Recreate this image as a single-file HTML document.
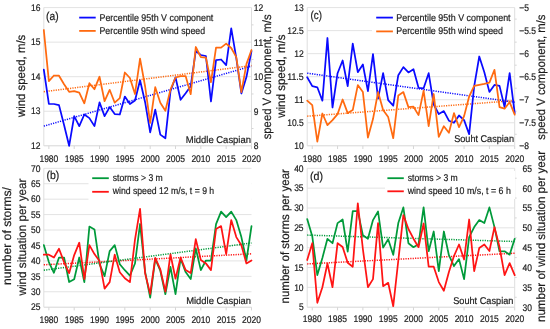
<!DOCTYPE html>
<html><head><meta charset="utf-8"><title>chart</title>
<style>html,body{margin:0;padding:0;background:#fff;}body{width:550px;height:329px;overflow:hidden;}svg{display:block;}</style>
</head><body>
<svg width="550" height="329" viewBox="0 0 550 329" font-family='"Liberation Sans", sans-serif'>
<rect width="550" height="329" fill="#fff"/>
<line x1="43.8" y1="7.6" x2="251.5" y2="7.6" stroke="#e3e3e3" stroke-width="1"/>
<line x1="43.8" y1="42.15" x2="251.5" y2="42.15" stroke="#e3e3e3" stroke-width="1"/>
<line x1="43.8" y1="76.7" x2="251.5" y2="76.7" stroke="#e3e3e3" stroke-width="1"/>
<line x1="43.8" y1="111.25" x2="251.5" y2="111.25" stroke="#e3e3e3" stroke-width="1"/>
<line x1="43.8" y1="145.8" x2="251.5" y2="145.8" stroke="#d6d6d6" stroke-width="1"/>
<line x1="43.8" y1="7.6" x2="43.8" y2="145.8" stroke="#dedede" stroke-width="1"/>
<line x1="48.87" y1="145.8" x2="48.87" y2="149" stroke="#d6d6d6" stroke-width="1"/>
<line x1="74.2" y1="145.8" x2="74.2" y2="149" stroke="#d6d6d6" stroke-width="1"/>
<line x1="99.52" y1="145.8" x2="99.52" y2="149" stroke="#d6d6d6" stroke-width="1"/>
<line x1="124.85" y1="145.8" x2="124.85" y2="149" stroke="#d6d6d6" stroke-width="1"/>
<line x1="150.18" y1="145.8" x2="150.18" y2="149" stroke="#d6d6d6" stroke-width="1"/>
<line x1="175.51" y1="145.8" x2="175.51" y2="149" stroke="#d6d6d6" stroke-width="1"/>
<line x1="200.84" y1="145.8" x2="200.84" y2="149" stroke="#d6d6d6" stroke-width="1"/>
<line x1="226.17" y1="145.8" x2="226.17" y2="149" stroke="#d6d6d6" stroke-width="1"/>
<line x1="251.5" y1="145.8" x2="251.5" y2="149" stroke="#d6d6d6" stroke-width="1"/>
<line x1="251.5" y1="7.6" x2="251.5" y2="145.8" stroke="#dedede" stroke-width="1"/>
<line x1="307.2" y1="7.6" x2="514.7" y2="7.6" stroke="#e3e3e3" stroke-width="1"/>
<line x1="307.2" y1="30.63" x2="514.7" y2="30.63" stroke="#e3e3e3" stroke-width="1"/>
<line x1="307.2" y1="53.67" x2="514.7" y2="53.67" stroke="#e3e3e3" stroke-width="1"/>
<line x1="307.2" y1="76.7" x2="514.7" y2="76.7" stroke="#e3e3e3" stroke-width="1"/>
<line x1="307.2" y1="99.73" x2="514.7" y2="99.73" stroke="#e3e3e3" stroke-width="1"/>
<line x1="307.2" y1="122.77" x2="514.7" y2="122.77" stroke="#e3e3e3" stroke-width="1"/>
<line x1="307.2" y1="145.8" x2="514.7" y2="145.8" stroke="#d6d6d6" stroke-width="1"/>
<line x1="307.2" y1="7.6" x2="307.2" y2="145.8" stroke="#dedede" stroke-width="1"/>
<line x1="312.26" y1="145.8" x2="312.26" y2="149" stroke="#d6d6d6" stroke-width="1"/>
<line x1="337.57" y1="145.8" x2="337.57" y2="149" stroke="#d6d6d6" stroke-width="1"/>
<line x1="362.87" y1="145.8" x2="362.87" y2="149" stroke="#d6d6d6" stroke-width="1"/>
<line x1="388.18" y1="145.8" x2="388.18" y2="149" stroke="#d6d6d6" stroke-width="1"/>
<line x1="413.48" y1="145.8" x2="413.48" y2="149" stroke="#d6d6d6" stroke-width="1"/>
<line x1="438.79" y1="145.8" x2="438.79" y2="149" stroke="#d6d6d6" stroke-width="1"/>
<line x1="464.09" y1="145.8" x2="464.09" y2="149" stroke="#d6d6d6" stroke-width="1"/>
<line x1="489.4" y1="145.8" x2="489.4" y2="149" stroke="#d6d6d6" stroke-width="1"/>
<line x1="514.7" y1="145.8" x2="514.7" y2="149" stroke="#d6d6d6" stroke-width="1"/>
<line x1="514.7" y1="7.6" x2="514.7" y2="145.8" stroke="#dedede" stroke-width="1"/>
<line x1="43.8" y1="168.3" x2="251.5" y2="168.3" stroke="#e3e3e3" stroke-width="1"/>
<line x1="43.8" y1="183.73" x2="251.5" y2="183.73" stroke="#e3e3e3" stroke-width="1"/>
<line x1="43.8" y1="199.17" x2="251.5" y2="199.17" stroke="#e3e3e3" stroke-width="1"/>
<line x1="43.8" y1="214.6" x2="251.5" y2="214.6" stroke="#e3e3e3" stroke-width="1"/>
<line x1="43.8" y1="230.03" x2="251.5" y2="230.03" stroke="#e3e3e3" stroke-width="1"/>
<line x1="43.8" y1="245.47" x2="251.5" y2="245.47" stroke="#e3e3e3" stroke-width="1"/>
<line x1="43.8" y1="260.9" x2="251.5" y2="260.9" stroke="#e3e3e3" stroke-width="1"/>
<line x1="43.8" y1="276.33" x2="251.5" y2="276.33" stroke="#e3e3e3" stroke-width="1"/>
<line x1="43.8" y1="291.77" x2="251.5" y2="291.77" stroke="#e3e3e3" stroke-width="1"/>
<line x1="43.8" y1="307.2" x2="251.5" y2="307.2" stroke="#d6d6d6" stroke-width="1"/>
<line x1="43.8" y1="168.3" x2="43.8" y2="307.2" stroke="#dedede" stroke-width="1"/>
<line x1="48.87" y1="307.2" x2="48.87" y2="310.4" stroke="#d6d6d6" stroke-width="1"/>
<line x1="74.2" y1="307.2" x2="74.2" y2="310.4" stroke="#d6d6d6" stroke-width="1"/>
<line x1="99.52" y1="307.2" x2="99.52" y2="310.4" stroke="#d6d6d6" stroke-width="1"/>
<line x1="124.85" y1="307.2" x2="124.85" y2="310.4" stroke="#d6d6d6" stroke-width="1"/>
<line x1="150.18" y1="307.2" x2="150.18" y2="310.4" stroke="#d6d6d6" stroke-width="1"/>
<line x1="175.51" y1="307.2" x2="175.51" y2="310.4" stroke="#d6d6d6" stroke-width="1"/>
<line x1="200.84" y1="307.2" x2="200.84" y2="310.4" stroke="#d6d6d6" stroke-width="1"/>
<line x1="226.17" y1="307.2" x2="226.17" y2="310.4" stroke="#d6d6d6" stroke-width="1"/>
<line x1="251.5" y1="307.2" x2="251.5" y2="310.4" stroke="#d6d6d6" stroke-width="1"/>
<line x1="307.2" y1="168.3" x2="514.7" y2="168.3" stroke="#e3e3e3" stroke-width="1"/>
<line x1="307.2" y1="188.14" x2="514.7" y2="188.14" stroke="#e3e3e3" stroke-width="1"/>
<line x1="307.2" y1="207.99" x2="514.7" y2="207.99" stroke="#e3e3e3" stroke-width="1"/>
<line x1="307.2" y1="227.83" x2="514.7" y2="227.83" stroke="#e3e3e3" stroke-width="1"/>
<line x1="307.2" y1="247.67" x2="514.7" y2="247.67" stroke="#e3e3e3" stroke-width="1"/>
<line x1="307.2" y1="267.51" x2="514.7" y2="267.51" stroke="#e3e3e3" stroke-width="1"/>
<line x1="307.2" y1="287.36" x2="514.7" y2="287.36" stroke="#e3e3e3" stroke-width="1"/>
<line x1="307.2" y1="307.2" x2="514.7" y2="307.2" stroke="#d6d6d6" stroke-width="1"/>
<line x1="307.2" y1="168.3" x2="307.2" y2="307.2" stroke="#dedede" stroke-width="1"/>
<line x1="312.26" y1="307.2" x2="312.26" y2="310.4" stroke="#d6d6d6" stroke-width="1"/>
<line x1="337.57" y1="307.2" x2="337.57" y2="310.4" stroke="#d6d6d6" stroke-width="1"/>
<line x1="362.87" y1="307.2" x2="362.87" y2="310.4" stroke="#d6d6d6" stroke-width="1"/>
<line x1="388.18" y1="307.2" x2="388.18" y2="310.4" stroke="#d6d6d6" stroke-width="1"/>
<line x1="413.48" y1="307.2" x2="413.48" y2="310.4" stroke="#d6d6d6" stroke-width="1"/>
<line x1="438.79" y1="307.2" x2="438.79" y2="310.4" stroke="#d6d6d6" stroke-width="1"/>
<line x1="464.09" y1="307.2" x2="464.09" y2="310.4" stroke="#d6d6d6" stroke-width="1"/>
<line x1="489.4" y1="307.2" x2="489.4" y2="310.4" stroke="#d6d6d6" stroke-width="1"/>
<line x1="514.7" y1="307.2" x2="514.7" y2="310.4" stroke="#d6d6d6" stroke-width="1"/>
<line x1="514.7" y1="168.3" x2="514.7" y2="307.2" stroke="#dedede" stroke-width="1"/>
<line x1="251.5" y1="24.88" x2="253.5" y2="24.88" stroke="#d6d6d6" stroke-width="1"/>
<line x1="251.5" y1="59.43" x2="253.5" y2="59.43" stroke="#d6d6d6" stroke-width="1"/>
<line x1="251.5" y1="93.98" x2="253.5" y2="93.98" stroke="#d6d6d6" stroke-width="1"/>
<line x1="251.5" y1="128.53" x2="253.5" y2="128.53" stroke="#d6d6d6" stroke-width="1"/>
<line x1="514.7" y1="19.12" x2="516.7" y2="19.12" stroke="#d6d6d6" stroke-width="1"/>
<line x1="514.7" y1="42.15" x2="516.7" y2="42.15" stroke="#d6d6d6" stroke-width="1"/>
<line x1="514.7" y1="65.18" x2="516.7" y2="65.18" stroke="#d6d6d6" stroke-width="1"/>
<line x1="514.7" y1="88.22" x2="516.7" y2="88.22" stroke="#d6d6d6" stroke-width="1"/>
<line x1="514.7" y1="111.25" x2="516.7" y2="111.25" stroke="#d6d6d6" stroke-width="1"/>
<line x1="514.7" y1="134.28" x2="516.7" y2="134.28" stroke="#d6d6d6" stroke-width="1"/>
<line x1="514.7" y1="178.22" x2="516.7" y2="178.22" stroke="#d6d6d6" stroke-width="1"/>
<line x1="514.7" y1="198.06" x2="516.7" y2="198.06" stroke="#d6d6d6" stroke-width="1"/>
<line x1="514.7" y1="217.91" x2="516.7" y2="217.91" stroke="#d6d6d6" stroke-width="1"/>
<line x1="514.7" y1="237.75" x2="516.7" y2="237.75" stroke="#d6d6d6" stroke-width="1"/>
<line x1="514.7" y1="257.59" x2="516.7" y2="257.59" stroke="#d6d6d6" stroke-width="1"/>
<line x1="514.7" y1="277.44" x2="516.7" y2="277.44" stroke="#d6d6d6" stroke-width="1"/>
<line x1="514.7" y1="297.28" x2="516.7" y2="297.28" stroke="#d6d6d6" stroke-width="1"/>
<rect x="372" y="10" width="142" height="30" fill="#fff"/>
<rect x="88.5" y="171" width="163" height="32" fill="#fff"/>
<rect x="385" y="171" width="130" height="28" fill="#fff"/>
<line x1="43.8" y1="91.7" x2="251.5" y2="65.6" stroke="#ff6a10" stroke-width="1.5" stroke-dasharray="1.2 1.2"/>
<line x1="43.8" y1="126.1" x2="251.5" y2="66.1" stroke="#0a0aff" stroke-width="1.5" stroke-dasharray="1.2 1.2"/>
<line x1="307.2" y1="73.2" x2="514.7" y2="102.2" stroke="#0a0aff" stroke-width="1.5" stroke-dasharray="1.2 1.2"/>
<line x1="307.2" y1="116.2" x2="514.7" y2="100.6" stroke="#ff6a10" stroke-width="1.5" stroke-dasharray="1.2 1.2"/>
<line x1="43.8" y1="264.8" x2="251.5" y2="253.8" stroke="#ff1414" stroke-width="1.5" stroke-dasharray="1.2 1.2"/>
<line x1="43.8" y1="270.2" x2="251.5" y2="243" stroke="#009a3a" stroke-width="1.5" stroke-dasharray="1.2 1.2"/>
<line x1="307.2" y1="263.9" x2="514.7" y2="253.2" stroke="#ff1414" stroke-width="1.5" stroke-dasharray="1.2 1.2"/>
<line x1="307.2" y1="235.1" x2="514.7" y2="241.5" stroke="#009a3a" stroke-width="1.5" stroke-dasharray="1.2 1.2"/>
<polyline points="43.8,69.7 48.87,103.8 53.93,104 59,105.1 64.06,125 69.13,145.8 74.2,116.1 79.26,126.1 84.33,114.5 89.39,118.1 94.46,126.1 99.52,102.4 104.59,116.1 109.66,107.1 114.72,114.1 119.79,114.5 124.85,96.6 129.92,104 134.99,100.5 140.05,80.3 145.12,102.2 150.18,132.4 155.25,109.7 160.31,134.6 165.38,138.3 170.45,91.3 175.51,77.3 180.58,99.8 185.64,93.2 190.71,86.2 195.78,51 200.84,55 205.91,56 210.97,101.5 216.04,60.1 221.1,59.5 226.17,65.1 231.24,28.3 236.3,58.1 241.37,93.5 246.43,77.1 251.5,51" fill="none" stroke="#0a0aff" stroke-width="1.75" stroke-linejoin="round" stroke-linecap="round"/>
<polyline points="43.8,30 48.87,81.2 53.93,75.5 59,75.7 64.06,84.2 69.13,91.8 74.2,91.2 79.26,92.6 84.33,103.3 89.39,83.2 94.46,89.2 99.52,76.7 104.59,101.2 109.66,89.8 114.72,102.7 119.79,98.2 124.85,72.5 129.92,78 134.99,94 140.05,58.6 145.12,86.5 150.18,122.8 155.25,87.2 160.31,102.8 165.38,110.8 170.45,89.5 175.51,77.5 180.58,76.1 185.64,76.1 190.71,94.2 195.78,47 200.84,57.1 205.91,57.7 210.97,82.2 216.04,47.6 221.1,47.6 226.17,43.6 231.24,48 236.3,57.1 241.37,92.2 246.43,64.1 251.5,50" fill="none" stroke="#ff6a10" stroke-width="1.75" stroke-linejoin="round" stroke-linecap="round"/>
<polyline points="307.2,77.2 312.26,86.1 317.32,87.3 322.38,100.7 327.44,38 332.5,107.5 337.57,73.2 342.63,60.5 347.69,86.2 352.75,43.7 357.81,72.2 362.87,64.5 367.93,91.1 372.99,54.1 378.05,98.7 383.11,73.2 388.18,100.1 393.24,105.7 398.3,75.2 403.36,67.1 408.42,72.4 413.48,69.2 418.54,87.8 423.6,88.3 428.66,73.2 433.72,104.5 438.79,114.1 443.85,111.1 448.91,120.7 453.97,122.8 459.03,115.5 464.09,120.1 469.15,134.2 474.21,86.2 479.27,56.5 484.33,72.2 489.4,91.9 494.46,84.9 499.52,85.9 504.58,107.1 509.64,73.2 514.7,113.1" fill="none" stroke="#0a0aff" stroke-width="1.75" stroke-linejoin="round" stroke-linecap="round"/>
<polyline points="307.2,100.7 312.26,105.1 317.32,141.6 322.38,113.5 327.44,125.2 332.5,120.1 337.57,114.1 342.63,99.5 347.69,113.1 352.75,110.1 357.81,85.1 362.87,92 367.93,137.6 372.99,119.1 378.05,92.1 383.11,110.1 388.18,117.1 393.24,138.2 398.3,95.4 403.36,92.1 408.42,107.1 413.48,106.7 418.54,115.1 423.6,90.6 428.66,126.2 433.72,94 438.79,136.8 443.85,126.2 448.91,132.8 453.97,113.1 459.03,127.2 464.09,116.1 469.15,96.5 474.21,85.9 479.27,84.8 484.33,83.9 489.4,82.6 494.46,69.8 499.52,107.1 504.58,108.7 509.64,102.1 514.7,114.7" fill="none" stroke="#ff6a10" stroke-width="1.75" stroke-linejoin="round" stroke-linecap="round"/>
<polyline points="43.8,245.1 48.87,262.1 53.93,272.8 59,257.5 64.06,257.5 69.13,282 74.2,279.2 79.26,257.5 84.33,282.1 89.39,226.6 94.46,229.4 99.52,264.2 104.59,276.2 109.66,251.1 114.72,245.1 119.79,264.2 124.85,270.2 129.92,275.6 134.99,263.5 140.05,224 145.12,271.9 150.18,297.6 155.25,258.9 160.31,270.7 165.38,294.2 170.45,266.9 175.51,294.2 180.58,258.7 185.64,272.1 190.71,279.1 195.78,248.4 200.84,270.1 205.91,260.5 210.97,260.5 216.04,224.1 221.1,211.6 226.17,217.1 231.24,211.6 236.3,220.1 241.37,237.1 246.43,260.5 251.5,226.1" fill="none" stroke="#009a3a" stroke-width="1.75" stroke-linejoin="round" stroke-linecap="round"/>
<polyline points="43.8,254.7 48.87,254.7 53.93,257.5 59,248.7 64.06,262.1 69.13,273.2 74.2,255.1 79.26,242.7 84.33,279.2 89.39,245.1 94.46,254.1 99.52,261.1 104.59,288.6 109.66,282.1 114.72,254.7 119.79,272.2 124.85,278.2 129.92,282.1 134.99,239.7 140.05,208.8 145.12,273.4 150.18,293.9 155.25,257.8 160.31,269.4 165.38,291.6 170.45,254.3 175.51,278.7 180.58,257.5 185.64,270.1 190.71,273.1 195.78,239.2 200.84,260.1 205.91,263.4 210.97,270.1 216.04,229.1 221.1,226.1 226.17,254.2 231.24,220.1 236.3,237.1 241.37,245.2 246.43,263.4 251.5,260.5" fill="none" stroke="#ff1414" stroke-width="1.75" stroke-linejoin="round" stroke-linecap="round"/>
<polyline points="307.2,219.1 312.26,236.2 317.32,275.1 322.38,258 327.44,238.8 332.5,243.2 337.57,223.1 342.63,219.5 347.69,251.6 352.75,211.1 357.81,211.1 362.87,235.2 367.93,238.8 372.99,220.1 378.05,211.5 383.11,247.6 388.18,239.2 393.24,254.8 398.3,223.1 403.36,207.4 408.42,243.2 413.48,247.2 418.54,244.2 423.6,207.4 428.66,251.2 433.72,231.5 438.79,271.1 443.85,231.5 448.91,255.2 453.97,266.1 459.03,259.1 464.09,279.1 469.15,237.2 474.21,227.1 479.27,220.1 484.33,223.1 489.4,207.4 494.46,227.1 499.52,251.2 504.58,251.3 509.64,254.7 514.7,238.8" fill="none" stroke="#009a3a" stroke-width="1.75" stroke-linejoin="round" stroke-linecap="round"/>
<polyline points="307.2,260 312.26,243.2 317.32,302.8 322.38,287.2 327.44,263.5 332.5,287.2 337.57,243.2 342.63,247 347.69,262.7 352.75,266.7 357.81,203.4 362.87,249 367.93,287.2 372.99,279.1 378.05,223.1 383.11,286.2 388.18,282.8 393.24,306.2 398.3,260.5 403.36,215.1 408.42,229 413.48,238.7 418.54,247.2 423.6,223.5 428.66,266.7 433.72,266.7 438.79,282.1 443.85,290.8 448.91,272.1 453.97,256 459.03,244.5 464.09,259.5 469.15,219.5 474.21,271.1 479.27,248 484.33,244.5 489.4,251 494.46,227.1 499.52,247 504.58,275.1 509.64,263.1 514.7,275.1" fill="none" stroke="#ff1414" stroke-width="1.75" stroke-linejoin="round" stroke-linecap="round"/>
<line x1="79.2" y1="17.6" x2="95.7" y2="17.6" stroke="#0a0aff" stroke-width="1.8"/>
<line x1="79.2" y1="30.9" x2="95.7" y2="30.9" stroke="#ff6a10" stroke-width="1.8"/>
<line x1="376.2" y1="17.6" x2="392.9" y2="17.6" stroke="#0a0aff" stroke-width="1.8"/>
<line x1="376.2" y1="31.4" x2="392.9" y2="31.4" stroke="#ff6a10" stroke-width="1.8"/>
<line x1="92.2" y1="178.2" x2="108.8" y2="178.2" stroke="#009a3a" stroke-width="1.8"/>
<line x1="92.2" y1="191.8" x2="108.8" y2="191.8" stroke="#ff1414" stroke-width="1.8"/>
<line x1="387.4" y1="178.2" x2="403.8" y2="178.2" stroke="#009a3a" stroke-width="1.8"/>
<line x1="387.4" y1="191.3" x2="403.8" y2="191.3" stroke="#ff1414" stroke-width="1.8"/>
<g fill="#1c1c1c" stroke="#1c1c1c" stroke-width="0.2" style="filter:grayscale(1)" text-rendering="geometricPrecision">
<text x="99.5" y="20.6" font-size="9.8" textLength="113.8" lengthAdjust="spacingAndGlyphs">Percentile 95th V component</text>
<text x="99.5" y="33.9" font-size="9.8" textLength="105.6" lengthAdjust="spacingAndGlyphs">Percentile 95th wind speed</text>
<text x="396.3" y="20.6" font-size="9.8" textLength="114.3" lengthAdjust="spacingAndGlyphs">Percentile 95th V component</text>
<text x="396.3" y="34.3" font-size="9.8" textLength="106.7" lengthAdjust="spacingAndGlyphs">Percentile 95th wind speed</text>
<text x="112.7" y="181.1" font-size="9.8" textLength="50.1" lengthAdjust="spacingAndGlyphs">storms &gt; 3 m</text>
<text x="112.7" y="194.3" font-size="9.8" textLength="101.5" lengthAdjust="spacingAndGlyphs">wind speed 12 m/s, t = 9 h</text>
<text x="407.7" y="181.1" font-size="9.8" textLength="50.1" lengthAdjust="spacingAndGlyphs">storms &gt; 3 m</text>
<text x="407.7" y="194.2" font-size="9.8" textLength="103.1" lengthAdjust="spacingAndGlyphs">wind speed 10 m/s, t = 6 h</text>
<text x="46" y="19.7" font-size="11.5" textLength="12.6" lengthAdjust="spacingAndGlyphs">(a)</text>
<text x="310.5" y="19.3" font-size="11.5" textLength="11.4" lengthAdjust="spacingAndGlyphs">(c)</text>
<text x="46.4" y="179.3" font-size="11.5" textLength="12.8" lengthAdjust="spacingAndGlyphs">(b)</text>
<text x="310" y="180.1" font-size="11.5" textLength="13" lengthAdjust="spacingAndGlyphs">(d)</text>
<text x="185.8" y="142.7" font-size="9.8" textLength="65.2" lengthAdjust="spacingAndGlyphs">Middle Caspian</text>
<text x="454.2" y="142.2" font-size="9.8" textLength="59.8" lengthAdjust="spacingAndGlyphs">Souht Caspian</text>
<text x="186.2" y="303.8" font-size="9.8" textLength="64.8" lengthAdjust="spacingAndGlyphs">Middle Caspian</text>
<text x="453.2" y="303.6" font-size="9.8" textLength="60.2" lengthAdjust="spacingAndGlyphs">Souht Caspian</text>
<text x="48.87" y="161.9" font-size="9.6" text-anchor="middle" textLength="18.9" lengthAdjust="spacingAndGlyphs">1980</text>
<text x="74.2" y="161.9" font-size="9.6" text-anchor="middle" textLength="18.9" lengthAdjust="spacingAndGlyphs">1985</text>
<text x="99.52" y="161.9" font-size="9.6" text-anchor="middle" textLength="18.9" lengthAdjust="spacingAndGlyphs">1990</text>
<text x="124.85" y="161.9" font-size="9.6" text-anchor="middle" textLength="18.9" lengthAdjust="spacingAndGlyphs">1995</text>
<text x="150.18" y="161.9" font-size="9.6" text-anchor="middle" textLength="18.9" lengthAdjust="spacingAndGlyphs">2000</text>
<text x="175.51" y="161.9" font-size="9.6" text-anchor="middle" textLength="18.9" lengthAdjust="spacingAndGlyphs">2005</text>
<text x="200.84" y="161.9" font-size="9.6" text-anchor="middle" textLength="18.9" lengthAdjust="spacingAndGlyphs">2010</text>
<text x="226.17" y="161.9" font-size="9.6" text-anchor="middle" textLength="18.9" lengthAdjust="spacingAndGlyphs">2015</text>
<text x="251.5" y="161.9" font-size="9.6" text-anchor="middle" textLength="18.9" lengthAdjust="spacingAndGlyphs">2020</text>
<text x="312.26" y="161.9" font-size="9.6" text-anchor="middle" textLength="18.9" lengthAdjust="spacingAndGlyphs">1980</text>
<text x="337.57" y="161.9" font-size="9.6" text-anchor="middle" textLength="18.9" lengthAdjust="spacingAndGlyphs">1985</text>
<text x="362.87" y="161.9" font-size="9.6" text-anchor="middle" textLength="18.9" lengthAdjust="spacingAndGlyphs">1990</text>
<text x="388.18" y="161.9" font-size="9.6" text-anchor="middle" textLength="18.9" lengthAdjust="spacingAndGlyphs">1995</text>
<text x="413.48" y="161.9" font-size="9.6" text-anchor="middle" textLength="18.9" lengthAdjust="spacingAndGlyphs">2000</text>
<text x="438.79" y="161.9" font-size="9.6" text-anchor="middle" textLength="18.9" lengthAdjust="spacingAndGlyphs">2005</text>
<text x="464.09" y="161.9" font-size="9.6" text-anchor="middle" textLength="18.9" lengthAdjust="spacingAndGlyphs">2010</text>
<text x="489.4" y="161.9" font-size="9.6" text-anchor="middle" textLength="18.9" lengthAdjust="spacingAndGlyphs">2015</text>
<text x="514.7" y="161.9" font-size="9.6" text-anchor="middle" textLength="18.9" lengthAdjust="spacingAndGlyphs">2020</text>
<text x="48.87" y="322.9" font-size="9.6" text-anchor="middle" textLength="18.9" lengthAdjust="spacingAndGlyphs">1980</text>
<text x="74.2" y="322.9" font-size="9.6" text-anchor="middle" textLength="18.9" lengthAdjust="spacingAndGlyphs">1985</text>
<text x="99.52" y="322.9" font-size="9.6" text-anchor="middle" textLength="18.9" lengthAdjust="spacingAndGlyphs">1990</text>
<text x="124.85" y="322.9" font-size="9.6" text-anchor="middle" textLength="18.9" lengthAdjust="spacingAndGlyphs">1995</text>
<text x="150.18" y="322.9" font-size="9.6" text-anchor="middle" textLength="18.9" lengthAdjust="spacingAndGlyphs">2000</text>
<text x="175.51" y="322.9" font-size="9.6" text-anchor="middle" textLength="18.9" lengthAdjust="spacingAndGlyphs">2005</text>
<text x="200.84" y="322.9" font-size="9.6" text-anchor="middle" textLength="18.9" lengthAdjust="spacingAndGlyphs">2010</text>
<text x="226.17" y="322.9" font-size="9.6" text-anchor="middle" textLength="18.9" lengthAdjust="spacingAndGlyphs">2015</text>
<text x="251.5" y="322.9" font-size="9.6" text-anchor="middle" textLength="18.9" lengthAdjust="spacingAndGlyphs">2020</text>
<text x="312.26" y="322.2" font-size="9.6" text-anchor="middle" textLength="18.9" lengthAdjust="spacingAndGlyphs">1980</text>
<text x="337.57" y="322.2" font-size="9.6" text-anchor="middle" textLength="18.9" lengthAdjust="spacingAndGlyphs">1985</text>
<text x="362.87" y="322.2" font-size="9.6" text-anchor="middle" textLength="18.9" lengthAdjust="spacingAndGlyphs">1990</text>
<text x="388.18" y="322.2" font-size="9.6" text-anchor="middle" textLength="18.9" lengthAdjust="spacingAndGlyphs">1995</text>
<text x="413.48" y="322.2" font-size="9.6" text-anchor="middle" textLength="18.9" lengthAdjust="spacingAndGlyphs">2000</text>
<text x="438.79" y="322.2" font-size="9.6" text-anchor="middle" textLength="18.9" lengthAdjust="spacingAndGlyphs">2005</text>
<text x="464.09" y="322.2" font-size="9.6" text-anchor="middle" textLength="18.9" lengthAdjust="spacingAndGlyphs">2010</text>
<text x="489.4" y="322.2" font-size="9.6" text-anchor="middle" textLength="18.9" lengthAdjust="spacingAndGlyphs">2015</text>
<text x="514.7" y="322.2" font-size="9.6" text-anchor="middle" textLength="18.9" lengthAdjust="spacingAndGlyphs">2020</text>
<text x="40.4" y="10.8" font-size="9.6" text-anchor="end" textLength="9.45" lengthAdjust="spacingAndGlyphs">16</text>
<text x="40.4" y="45.35" font-size="9.6" text-anchor="end" textLength="9.45" lengthAdjust="spacingAndGlyphs">15</text>
<text x="40.4" y="79.9" font-size="9.6" text-anchor="end" textLength="9.45" lengthAdjust="spacingAndGlyphs">14</text>
<text x="40.4" y="114.45" font-size="9.6" text-anchor="end" textLength="9.45" lengthAdjust="spacingAndGlyphs">13</text>
<text x="40.4" y="149" font-size="9.6" text-anchor="end" textLength="9.45" lengthAdjust="spacingAndGlyphs">12</text>
<text x="253.8" y="11" font-size="9.6" textLength="9.45" lengthAdjust="spacingAndGlyphs">12</text>
<text x="253.8" y="45.55" font-size="9.6" textLength="9.45" lengthAdjust="spacingAndGlyphs">11</text>
<text x="253.8" y="80.1" font-size="9.6" textLength="9.45" lengthAdjust="spacingAndGlyphs">10</text>
<text x="253.8" y="114.65" font-size="9.6" textLength="4.72" lengthAdjust="spacingAndGlyphs">9</text>
<text x="253.8" y="149.2" font-size="9.6" textLength="4.72" lengthAdjust="spacingAndGlyphs">8</text>
<text x="303.7" y="10.8" font-size="9.6" text-anchor="end" textLength="9.45" lengthAdjust="spacingAndGlyphs">13</text>
<text x="303.7" y="33.83" font-size="9.6" text-anchor="end" textLength="16.53" lengthAdjust="spacingAndGlyphs">12.5</text>
<text x="303.7" y="56.87" font-size="9.6" text-anchor="end" textLength="9.45" lengthAdjust="spacingAndGlyphs">12</text>
<text x="303.7" y="79.9" font-size="9.6" text-anchor="end" textLength="16.53" lengthAdjust="spacingAndGlyphs">11.5</text>
<text x="303.7" y="102.93" font-size="9.6" text-anchor="end" textLength="9.45" lengthAdjust="spacingAndGlyphs">11</text>
<text x="303.7" y="125.97" font-size="9.6" text-anchor="end" textLength="16.53" lengthAdjust="spacingAndGlyphs">10.5</text>
<text x="303.7" y="149" font-size="9.6" text-anchor="end" textLength="9.45" lengthAdjust="spacingAndGlyphs">10</text>
<text x="519.2" y="11" font-size="9.6" textLength="9.69" lengthAdjust="spacingAndGlyphs">−5</text>
<text x="519.2" y="34.03" font-size="9.6" textLength="16.77" lengthAdjust="spacingAndGlyphs">−5.5</text>
<text x="519.2" y="57.07" font-size="9.6" textLength="9.69" lengthAdjust="spacingAndGlyphs">−6</text>
<text x="519.2" y="80.1" font-size="9.6" textLength="16.77" lengthAdjust="spacingAndGlyphs">−6.5</text>
<text x="519.2" y="103.13" font-size="9.6" textLength="9.69" lengthAdjust="spacingAndGlyphs">−7</text>
<text x="519.2" y="126.17" font-size="9.6" textLength="16.77" lengthAdjust="spacingAndGlyphs">−7.5</text>
<text x="519.2" y="149.2" font-size="9.6" textLength="9.69" lengthAdjust="spacingAndGlyphs">−8</text>
<text x="40.4" y="171.5" font-size="9.6" text-anchor="end" textLength="9.45" lengthAdjust="spacingAndGlyphs">70</text>
<text x="40.4" y="186.93" font-size="9.6" text-anchor="end" textLength="9.45" lengthAdjust="spacingAndGlyphs">65</text>
<text x="40.4" y="202.37" font-size="9.6" text-anchor="end" textLength="9.45" lengthAdjust="spacingAndGlyphs">60</text>
<text x="40.4" y="217.8" font-size="9.6" text-anchor="end" textLength="9.45" lengthAdjust="spacingAndGlyphs">55</text>
<text x="40.4" y="233.23" font-size="9.6" text-anchor="end" textLength="9.45" lengthAdjust="spacingAndGlyphs">50</text>
<text x="40.4" y="248.67" font-size="9.6" text-anchor="end" textLength="9.45" lengthAdjust="spacingAndGlyphs">45</text>
<text x="40.4" y="264.1" font-size="9.6" text-anchor="end" textLength="9.45" lengthAdjust="spacingAndGlyphs">40</text>
<text x="40.4" y="279.53" font-size="9.6" text-anchor="end" textLength="9.45" lengthAdjust="spacingAndGlyphs">35</text>
<text x="40.4" y="294.97" font-size="9.6" text-anchor="end" textLength="9.45" lengthAdjust="spacingAndGlyphs">30</text>
<text x="40.4" y="310.4" font-size="9.6" text-anchor="end" textLength="9.45" lengthAdjust="spacingAndGlyphs">25</text>
<text x="303.6" y="171.5" font-size="9.6" text-anchor="end" textLength="9.45" lengthAdjust="spacingAndGlyphs">40</text>
<text x="303.6" y="191.34" font-size="9.6" text-anchor="end" textLength="9.45" lengthAdjust="spacingAndGlyphs">35</text>
<text x="303.6" y="211.19" font-size="9.6" text-anchor="end" textLength="9.45" lengthAdjust="spacingAndGlyphs">30</text>
<text x="303.6" y="231.03" font-size="9.6" text-anchor="end" textLength="9.45" lengthAdjust="spacingAndGlyphs">25</text>
<text x="303.6" y="250.87" font-size="9.6" text-anchor="end" textLength="9.45" lengthAdjust="spacingAndGlyphs">20</text>
<text x="303.6" y="270.71" font-size="9.6" text-anchor="end" textLength="9.45" lengthAdjust="spacingAndGlyphs">15</text>
<text x="303.6" y="290.56" font-size="9.6" text-anchor="end" textLength="9.45" lengthAdjust="spacingAndGlyphs">10</text>
<text x="303.6" y="310.4" font-size="9.6" text-anchor="end" textLength="4.72" lengthAdjust="spacingAndGlyphs">5</text>
<text x="522.6" y="171.7" font-size="9.6" textLength="9.45" lengthAdjust="spacingAndGlyphs">65</text>
<text x="522.6" y="191.54" font-size="9.6" textLength="9.45" lengthAdjust="spacingAndGlyphs">60</text>
<text x="522.6" y="211.39" font-size="9.6" textLength="9.45" lengthAdjust="spacingAndGlyphs">55</text>
<text x="522.6" y="231.23" font-size="9.6" textLength="9.45" lengthAdjust="spacingAndGlyphs">50</text>
<text x="522.6" y="251.07" font-size="9.6" textLength="9.45" lengthAdjust="spacingAndGlyphs">45</text>
<text x="522.6" y="270.91" font-size="9.6" textLength="9.45" lengthAdjust="spacingAndGlyphs">40</text>
<text x="522.6" y="290.76" font-size="9.6" textLength="9.45" lengthAdjust="spacingAndGlyphs">35</text>
<text x="522.6" y="310.6" font-size="9.6" textLength="9.45" lengthAdjust="spacingAndGlyphs">30</text>
<text x="24.9" y="117" font-size="12.0" textLength="82.3" lengthAdjust="spacingAndGlyphs" transform="rotate(-90 24.9 117)">wind speed, m/s</text>
<text x="271.4" y="139.3" font-size="12.0" textLength="124.9" lengthAdjust="spacingAndGlyphs" transform="rotate(-90 271.4 139.3)">speed V component, m/s</text>
<text x="284.8" y="117.8" font-size="12.0" textLength="83.4" lengthAdjust="spacingAndGlyphs" transform="rotate(-90 284.8 117.8)">wind speed, m/s</text>
<text x="545.2" y="139.7" font-size="12.0" textLength="125.1" lengthAdjust="spacingAndGlyphs" transform="rotate(-90 545.2 139.7)">speed V component, m/s</text>
<text x="11" y="285" font-size="12.0" textLength="98" lengthAdjust="spacingAndGlyphs" transform="rotate(-90 11 285)">number of storms/</text>
<text x="26" y="295.5" font-size="12.0" textLength="117" lengthAdjust="spacingAndGlyphs" transform="rotate(-90 26 295.5)">wind situation per year</text>
<text x="289" y="303.4" font-size="12.0" textLength="134.3" lengthAdjust="spacingAndGlyphs" transform="rotate(-90 289 303.4)">number of storms per year</text>
<text x="544.6" y="322" font-size="12.0" textLength="171" lengthAdjust="spacingAndGlyphs" transform="rotate(-90 544.6 322)">number of wind situation per year</text>
</g>
</svg>
</body></html>
